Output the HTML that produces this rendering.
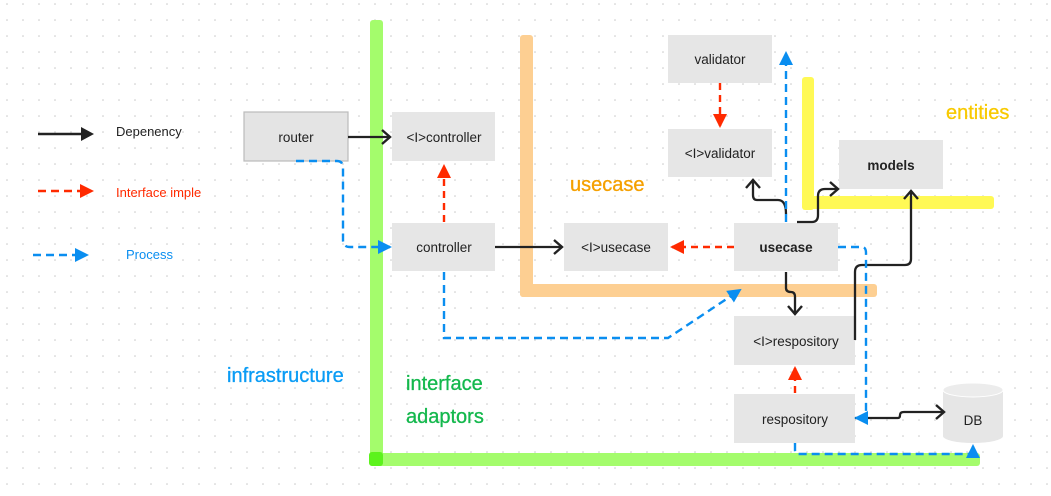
<!DOCTYPE html>
<html><head><meta charset="utf-8"><style>
html,body{margin:0;padding:0;background:#fff}
svg{display:block}
text{font-family:"Liberation Sans",sans-serif}
</style></head><body>
<svg width="1051" height="496" viewBox="0 0 1051 496" xmlns="http://www.w3.org/2000/svg">
<defs>
<pattern id="dots" width="16" height="16" patternUnits="userSpaceOnUse"><circle cx="7" cy="4" r="0.8" fill="#c8c8c8"/></pattern>
<marker id="ab" markerWidth="14" markerHeight="16" refX="11" refY="8" orient="auto" markerUnits="userSpaceOnUse"><path d="M3,1 L11,8 L3,15" fill="none" stroke="#222" stroke-width="2.4"/></marker>
<marker id="ar" markerWidth="14" markerHeight="14" refX="12" refY="7" orient="auto" markerUnits="userSpaceOnUse"><path d="M0,0 L14,7 L0,14 Z" fill="#ff2a00"/></marker>
<marker id="abl" markerWidth="14" markerHeight="14" refX="12" refY="7" orient="auto" markerUnits="userSpaceOnUse"><path d="M0,0 L14,7 L0,14 Z" fill="#0a8ef0"/></marker>
</defs>
<rect width="1051" height="496" fill="url(#dots)"/>

<!-- bands -->
<rect x="370" y="20" width="13" height="446" rx="3" fill="#a4fc6c"/>
<rect x="370" y="453" width="610" height="13" rx="3" fill="#a4fc6c"/>
<rect x="369" y="452" width="14" height="14" rx="3" fill="#5cf31c"/>
<rect x="520" y="35" width="13" height="262" rx="3" fill="#fdcf92"/>
<rect x="520" y="284" width="357" height="13" rx="3" fill="#fdcf92"/>
<rect x="802" y="77" width="12" height="133" rx="3" fill="#fff955"/>
<rect x="802" y="196" width="192" height="13" rx="3" fill="#fff955"/>

<!-- legend -->
<line x1="38" y1="134" x2="84" y2="134" stroke="#222" stroke-width="2.5"/>
<path d="M81,127 L94,134 L81,141 Z" fill="#222"/>
<text x="116" y="136" font-size="13" fill="#222">Depenency</text>
<line x1="38" y1="191" x2="82" y2="191" stroke="#ff2a00" stroke-width="2.5" stroke-dasharray="8,5"/>
<path d="M80,184 L94,191 L80,198 Z" fill="#ff2a00"/>
<text x="116" y="197" font-size="13" fill="#ff2a00">Interface imple</text>
<line x1="33" y1="255" x2="77" y2="255" stroke="#0a8ef0" stroke-width="2.5" stroke-dasharray="8,5"/>
<path d="M75,248 L89,255 L75,262 Z" fill="#0a8ef0"/>
<text x="126" y="259" font-size="13" fill="#0a8ef0">Process</text>

<!-- labels -->
<text x="227" y="382" font-size="20" fill="#0a9cf5" stroke="#0a9cf5" stroke-width="0.3">infrastructure</text>
<text x="406" y="390" font-size="20" fill="#14b84d" stroke="#14b84d" stroke-width="0.3">interface</text>
<text x="406" y="423" font-size="20" fill="#14b84d" stroke="#14b84d" stroke-width="0.3">adaptors</text>
<text x="570" y="191" font-size="20" fill="#f5a000" stroke="#f5a000" stroke-width="0.3">usecase</text>
<text x="946" y="119" font-size="20" fill="#f8c900" stroke="#f8c900" stroke-width="0.3">entities</text>

<!-- boxes -->
<g font-size="13.5" fill="#222" text-anchor="middle">
<rect x="244" y="112" width="104" height="49" fill="#e4e4e4" stroke="#bbb" stroke-width="1.2"/>
<text x="296" y="142">router</text>
<rect x="392" y="112" width="103" height="49" fill="#e6e6e6"/>
<text x="444" y="142">&lt;I&gt;controller</text>
<rect x="392" y="223" width="103" height="48" fill="#e6e6e6"/>
<text x="444" y="252">controller</text>
<rect x="564" y="223" width="104" height="48" fill="#e6e6e6"/>
<text x="616" y="252">&lt;I&gt;usecase</text>
<rect x="734" y="223" width="104" height="48" fill="#e6e6e6"/>
<text x="786" y="252" font-weight="bold">usecase</text>
<rect x="668" y="35" width="104" height="48" fill="#e6e6e6"/>
<text x="720" y="64">validator</text>
<rect x="668" y="129" width="104" height="48" fill="#e6e6e6"/>
<text x="720" y="158">&lt;I&gt;validator</text>
<rect x="839" y="140" width="104" height="49" fill="#e6e6e6"/>
<text x="891" y="170" font-weight="bold">models</text>
<rect x="734" y="316" width="121" height="49" fill="#e6e6e6"/>
<text x="796" y="346">&lt;I&gt;respository</text>
<rect x="734" y="394" width="121" height="49" fill="#e6e6e6"/>
<text x="795" y="424">respository</text>
<path d="M943,390 L943,436 A30,7 0 0 0 1003,436 L1003,390" fill="#e6e6e6"/>
<ellipse cx="973" cy="390" rx="30" ry="7" fill="#ececec" stroke="#fff" stroke-width="1"/>
<text x="973" y="425">DB</text>
</g>

<!-- black dependencies -->
<g fill="none" stroke="#222" stroke-width="2.3">
<line x1="348" y1="137" x2="390" y2="137" marker-end="url(#ab)"/>
<line x1="495" y1="247" x2="562" y2="247" marker-end="url(#ab)"/>
<path d="M786,214 Q786,200 778,200 L757,200 Q753,200 753,195 L753,180" marker-end="url(#ab)"/>
<path d="M797,222 L812,222 Q818,222 818,215 L818,196 Q818,189 825,189 L838,189" marker-end="url(#ab)"/>
<path d="M786,272 L786,288 Q786,292 791,292 Q795,292 795,297 L795,314" marker-end="url(#ab)"/>
<path d="M855,340 L855,272 Q855,265 862,265 L905,265 Q911,265 911,259 L911,191" marker-end="url(#ab)"/>
<path d="M855,418 L898,418 Q900,418 900,415 Q900,412 904,412 L944,412" marker-end="url(#ab)"/>
</g>

<!-- red interface -->
<g fill="none" stroke="#ff2a00" stroke-width="2.4" stroke-dasharray="7,5">
<line x1="444" y1="222" x2="444" y2="166" marker-end="url(#ar)"/>
<line x1="734" y1="247" x2="672" y2="247" marker-end="url(#ar)"/>
<line x1="720" y1="83" x2="720" y2="126" marker-end="url(#ar)"/>
<line x1="795" y1="393" x2="795" y2="368" marker-end="url(#ar)"/>
</g>

<!-- blue process -->
<g fill="none" stroke="#0a8ef0" stroke-width="2.4" stroke-dasharray="8,5">
<path d="M296,161 L337,161 Q343,161 343,168 L343,240 Q343,247 350,247 L390,247" marker-end="url(#abl)"/>
<path d="M444,272 L444,338 L668,338 L740,290" marker-end="url(#abl)"/>
<path d="M786,222 L786,53" marker-end="url(#abl)"/>
<path d="M838,247 L862,247 Q866,247 866,253 L866,418 L856,418" marker-end="url(#abl)"/>
<path d="M795,443 L795,450 Q795,454 799,454 L973,454 L973,446" marker-end="url(#abl)"/>
</g>
</svg>
</body></html>
